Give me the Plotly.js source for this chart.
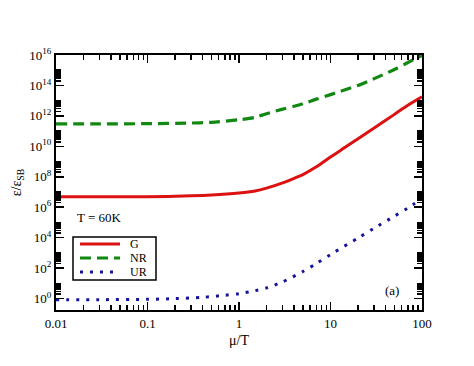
<!DOCTYPE html>
<html>
<head>
<meta charset="utf-8">
<script src="https://cdn.plot.ly/plotly-3.0.1.min.js"></script>
<style>
  html, body { margin: 0; padding: 0; background: #fff; }
  #chart { width: 474px; height: 366px; }
</style>
</head>
<body>
<div id="chart"></div>
<script>
// mu/T sample points
const muT = [0.01, 0.03, 0.1, 0.3, 0.5, 1, 1.5, 2, 3, 4, 5, 7, 10, 15, 20, 30, 50, 70, 100];
const muT_UR = [0.01, 0.03, 0.1, 0.2, 0.4, 0.7, 1, 1.5, 2, 3, 5, 7, 10, 20, 30, 50, 70, 100];

// epsilon / epsilon_SB
const epsG  = [4.8e6, 4.8e6, 4.9e6, 5.6e6, 6.3e6, 8.5e6, 1.17e7, 1.8e7, 4.0e7, 7.9e7, 1.4e8, 4.5e8, 2.0e9, 1.0e10, 3.2e10, 1.6e11, 1.26e12, 5.0e12, 1.8e13];
const epsNR = [3.0e11, 3.0e11, 3.1e11, 3.4e11, 3.8e11, 5.6e11, 8.0e11, 1.4e12, 2.8e12, 4.3e12, 6.3e12, 1.26e13, 2.5e13, 5.6e13, 1.0e14, 2.8e14, 1.12e15, 3.2e15, 9.3e15];
const epsUR = [0.83, 0.85, 0.89, 1.0, 1.2, 1.66, 2.1, 3.3, 5.0, 12.6, 60, 200, 780, 9.5e3, 4.2e4, 2.6e5, 9.0e5, 3.5e6];

const seriesNames = ['G', 'NR', 'UR'];
const seriesColors = ['#dd1111', '#118811', '#14149a'];
const seriesDash = ['solid', '11px,6px', '3px,7px'];
const seriesWidth = [3, 3.2, 3];

// tick labels
const xTickVals = [0.01, 0.1, 1, 10, 100];
const xTickText = ['0.01', '0.1', '1', '10', '100'];
const yExponents = [0, 2, 4, 6, 8, 10, 12, 14, 16];
const yTickVals = yExponents.map(e => Math.pow(10, e));
const yTickText = yExponents.map(e => '10<sup>' + e + '</sup>');

// minor ticks
const xMinor = [];
for (let e = -2; e <= 1; e++) for (let m = 2; m <= 9; m++) xMinor.push(m * Math.pow(10, e));
const yMinor = [];
for (let e = 0; e <= 14; e += 2) for (let m = 2; m <= 10; m++) yMinor.push(m * Math.pow(10, e));

const font = '"Liberation Serif", "Times New Roman", serif';

const xs = [muT, muT, muT_UR];
const ys = [epsG, epsNR, epsUR];
const traces = seriesNames.map((n, i) => ({
  x: xs[i], y: ys[i], name: n, mode: 'lines',
  line: { color: seriesColors[i], width: seriesWidth[i], dash: seriesDash[i], shape: 'spline', smoothing: 0.8 }
}));

const axisCommon = {
  type: 'log',
  showgrid: false,
  zeroline: false,
  showline: true,
  linecolor: '#000',
  linewidth: 2,
  mirror: 'allticks',
  ticks: 'inside',
  ticklen: 8,
  tickwidth: 1.5,
  tickcolor: '#000',
  tickmode: 'array',
  tickfont: { family: font, size: 13, color: '#000' }
};

// manual legend box (paper coords) to match compact legend of reference
const legX0 = (73 - 56) / 366, legX1 = (156 - 56) / 366;
const legY0 = (310 - 280) / 255, legY1 = (310 - 237) / 255;
const legRowsY = [244, 258, 272].map(p => (310 - p) / 255);
const sampleX0 = (80 - 56) / 366, sampleX1 = (120 - 56) / 366, textX = (129 - 56) / 366;

const shapes = [
  { type: 'rect', xref: 'paper', yref: 'paper', x0: legX0, x1: legX1, y0: legY0, y1: legY1,
    line: { color: '#000', width: 1.5 }, fillcolor: '#fff', layer: 'above' }
];
const annotations = [
  { xref: 'paper', yref: 'paper', x: 0.052, y: 0.361, xanchor: 'left', yanchor: 'middle', showarrow: false,
    text: 'T = 60K', font: { family: font, size: 13, color: '#000' } },
  { xref: 'paper', yref: 'paper', x: 0.918, y: 0.075, xanchor: 'center', yanchor: 'middle', showarrow: false,
    text: '(a)', font: { family: font, size: 13, color: '#000' } }
];
seriesNames.forEach((n, i) => {
  shapes.push({ type: 'line', xref: 'paper', yref: 'paper', x0: sampleX0, x1: sampleX1, y0: legRowsY[i], y1: legRowsY[i],
    line: { color: seriesColors[i], width: seriesWidth[i], dash: seriesDash[i] }, layer: 'above' });
  annotations.push({ xref: 'paper', yref: 'paper', x: textX, y: legRowsY[i], xanchor: 'left', yanchor: 'middle',
    showarrow: false, text: n, borderpad: 0, height: 12, valign: 'middle',
    font: { family: font, size: 12, color: '#000' } });
});

const layout = {
  width: 474, height: 366,
  margin: { l: 56, r: 52, t: 55, b: 56 },
  paper_bgcolor: '#fff', plot_bgcolor: '#fff',
  font: { family: font, color: '#000' },
  showlegend: false,
  xaxis: Object.assign({}, axisCommon, {
    range: [-2, 2],
    tickvals: xTickVals, ticktext: xTickText,
    minor: { tickmode: 'array', tickvals: xMinor, ticks: 'inside', ticklen: 5, tickwidth: 1.5, tickcolor: '#000' },
    title: { text: 'μ/T', font: { family: font, size: 14 }, standoff: 6 }
  }),
  yaxis: Object.assign({}, axisCommon, {
    range: [-0.75, 16],
    tickvals: yTickVals, ticktext: yTickText,
    minor: { tickmode: 'array', tickvals: yMinor, ticks: 'inside', ticklen: 5, tickwidth: 1.5, tickcolor: '#000' },
    title: { text: 'ε/ε<sub>SB</sub>', font: { family: font, size: 14 }, standoff: 4 }
  }),
  shapes: shapes,
  annotations: annotations
};

Plotly.newPlot('chart', traces, layout, { displayModeBar: false, staticPlot: true });
</script>
</body>
</html>
